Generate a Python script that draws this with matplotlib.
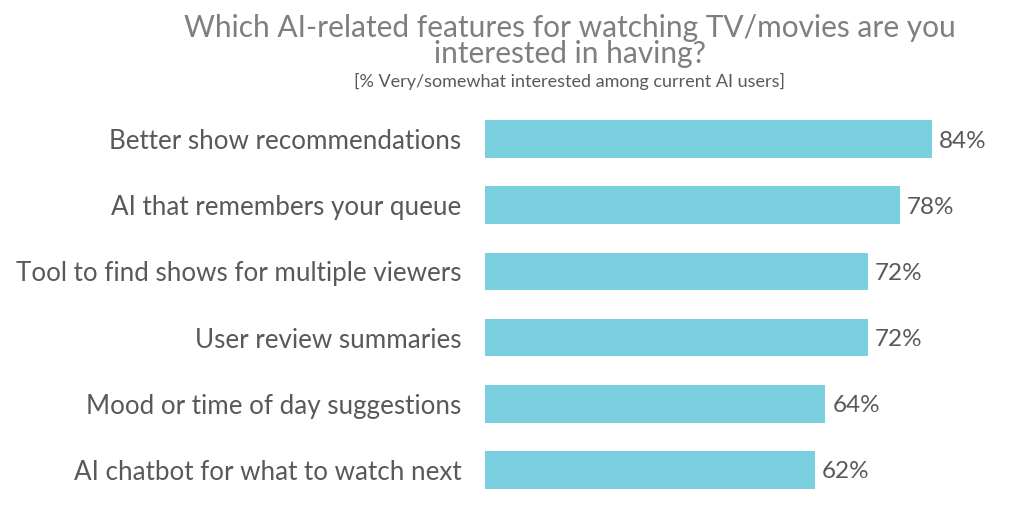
import matplotlib
matplotlib.use("Agg")
import matplotlib.pyplot as plt

CATEGORIES = [
    "Better show recommendations",
    "AI that remembers your queue",
    "Tool to find shows for multiple viewers",
    "User review summaries",
    "Mood or time of day suggestions",
    "AI chatbot for what to watch next",
]
VALUES = [84, 78, 72, 72, 64, 62]

BAR_COLOR = "#7BD0E0"
TEXT_COLOR = "#595959"

plt.rcParams["font.family"] = ["Lato", "DejaVu Sans"]

fig = plt.figure(figsize=(10.24, 5.25), dpi=100)
ax = fig.add_axes([485 / 1024, 1 - 503 / 525, 532 / 1024, 397 / 525])

y = list(range(len(CATEGORIES)))
ax.barh(y, VALUES, height=0.57, color=BAR_COLOR)
for yi, v in zip(y, VALUES):
    ax.text(v + 1.3, yi + 0.03, f"{v}%", va="center", ha="left",
            fontsize=17.5, color=TEXT_COLOR)

ax.set_xlim(0, 100)
ax.set_ylim(len(CATEGORIES) - 0.5, -0.5)
ax.set_yticks(y)
ax.set_yticklabels(CATEGORIES, fontsize=18.7, color=TEXT_COLOR)
ax.tick_params(axis="y", length=0, pad=17)
ax.set_xticks([])
for s in ax.spines.values():
    s.set_visible(False)

fig.text(570 / 1024, 1 - 41 / 525,
         "Which AI-related features for watching TV/movies are you\ninterested in having?",
         ha="center", va="center", fontsize=21.5, color="#7F7F7F", linespacing=0.95)
fig.text(570 / 1024, 1 - 81 / 525,
         "[% Very/somewhat interested among current AI users]",
         ha="center", va="center", fontsize=13, color=TEXT_COLOR)

fig.savefig("out.png", dpi=100)
